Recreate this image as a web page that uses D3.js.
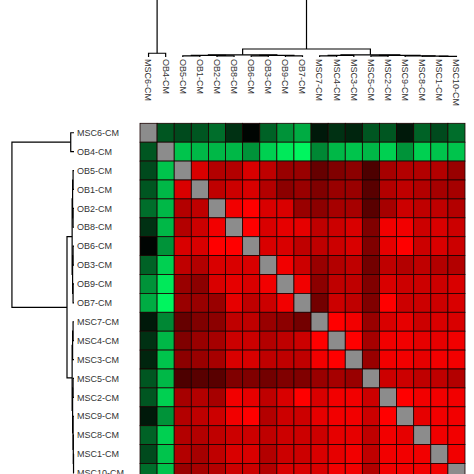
<!DOCTYPE html>
<html>
<head>
<meta charset="utf-8">
<script src="https://cdn.jsdelivr.net/npm/d3@7"></script>
<style>
  body { margin: 0; background: #fff; }
  text { font-family: "Liberation Sans", Arial, sans-serif; font-size: 9px; fill: #333; }
</style>
</head>
<body>
<svg id="chart" width="474" height="474"></svg>
<script>
const labels = ["MSC6-CM", "OB4-CM", "OB5-CM", "OB1-CM", "OB2-CM", "OB8-CM", "OB6-CM", "OB3-CM", "OB9-CM", "OB7-CM",
    "MSC7-CM", "MSC4-CM", "MSC3-CM", "MSC5-CM", "MSC2-CM", "MSC9-CM", "MSC8-CM", "MSC1-CM", "MSC10-CM"];

// upper triangle, row i lists values against columns i+1..18 (negative = green, positive = red)
const upper = [
    [-.35, -.3, -.35, -.45, -.2, -.02, -.4, -.6, -.7, -.1, -.2, -.15, -.35, -.35, -.1, -.4, -.3, -.45],
    [-.8, -.75, -.75, -.75, -.6, -.85, -.95, -1, -.55, -.75, -.8, -.75, -.85, -.6, -.85, -.8, -.8],
    [.85, .7, .7, .85, .75, .6, .6, .4, .5, .55, .3, .65, .7, .7, .7, .6],
    [.75, .8, .85, .7, .55, .6, .5, .6, .6, .35, .7, .75, .7, .65, .65],
    [.95, 1, .85, .85, .6, .55, .65, .65, .35, .65, .8, .75, .75, .7],
    [1, .85, .9, .9, .75, .8, .85, .5, .95, .95, .8, .85, .8],
    [.85, .85, .75, .75, .8, .85, .5, .9, 1, .8, .85, .8],
    [.95, .8, .6, .7, .75, .45, .75, .7, .75, .7, .7],
    [.95, .55, .75, .75, .5, .85, .8, .8, .8, .85],
    [.45, .8, .75, .5, 1, .8, .8, .8, .85],
    [1, .95, .6, .85, .9, .8, .85, .85],
    [1, .65, .95, .95, .9, .9, .95],
    [.6, .95, .95, .9, .95, .95],
    [.8, .8, .75, .75, .7],
    [1, .95, .95, .95],
    [.9, .95, .95],
    [.95, .95],
    [.95]
];

// dendrogram: [left, right, height]; leaves are label indices
const obTree = [[[2, 3, .02], [4, 5, .02], .03], [[6, 7, .02], [8, 9, .02], .03], .04];
const mscTree = [[[10, 11, .02], 12, .03], [[13, 14, .02], [15, [16, [17, 18, .01], .015], .02], .03], .04];
const rowTree = [[0, 1, .07], [obTree, mscTree, .15], 1.33];
const colTree = [[0, 1, .07], [obTree, mscTree, .15], 3];

const n = labels.length;
const matrix = d3.range(n).map(i => d3.range(n).map(j => {
    if (i === j) return null;
    return i < j ? upper[i][j - i - 1] : upper[j][i - j - 1];
}));

const svg = d3.select("#chart");
const x = d3.scaleBand().domain(d3.range(n)).range([140, 465]);
const y = d3.scaleBand().domain(d3.range(n)).range([123.3, 123.3 + 18.9 * n]);

const color = v => {
    if (v === null) return "#8c8c8c";
    if (v >= 0) return d3.rgb(255 * v, 0, 0);
    const g = -v;
    return d3.rgb(0, 245 * g, 95 * g);
};

const cells = [];
matrix.forEach((row, i) => row.forEach((v, j) => cells.push({ i, j, v })));
svg.append("g").selectAll("rect").data(cells).enter().append("rect")
    .attr("x", d => x(d.j))
    .attr("y", d => y(d.i))
    .attr("width", x.bandwidth())
    .attr("height", y.bandwidth())
    .attr("fill", d => color(d.v))
    .attr("stroke", "#1a0000")
    .attr("stroke-width", 0.8);

// labels
svg.append("g").selectAll("text").data(labels).enter().append("text")
    .attr("x", 77)
    .attr("y", (d, i) => y(i) + y.bandwidth() / 2)
    .attr("dy", "0.35em")
    .text(d => d);
svg.append("g").selectAll("text").data(labels).enter().append("text")
    .attr("transform", (d, i) => `translate(${x(i) + x.bandwidth() / 2},59) rotate(90)`)
    .attr("dy", "0.35em")
    .text(d => d);

// dendrograms
function drawTree(g, node, pos, hgt) {
    if (typeof node === "number") return { p: pos(node), h: hgt(0) };
    const a = drawTree(g, node[0], pos, hgt);
    const b = drawTree(g, node[1], pos, hgt);
    const h = hgt(node[2]);
    g(a, b, h);
    return { h, p: (a.p + b.p) / 2 };
}

const rowH = d3.scaleLinear().domain([0, .15]).range([74, 67]);
const rowG = svg.append("g").attr("fill", "none").attr("stroke", "#000").attr("stroke-width", 1.2);
drawTree((a, b, h) => rowG.append("path")
        .attr("d", `M${a.h},${a.p}H${h}V${b.p}H${b.h}`),
    rowTree, i => y(i) + y.bandwidth() / 2, rowH);

const colH = d3.scaleLinear().domain([0, .15]).range([57, 49]);
const colG = svg.append("g").attr("fill", "none").attr("stroke", "#000").attr("stroke-width", 1.2);
drawTree((a, b, h) => colG.append("path")
        .attr("d", `M${a.p},${a.h}V${h}H${b.p}V${b.h}`),
    colTree, i => x(i) + x.bandwidth() / 2, colH);
</script>
</body>
</html>
